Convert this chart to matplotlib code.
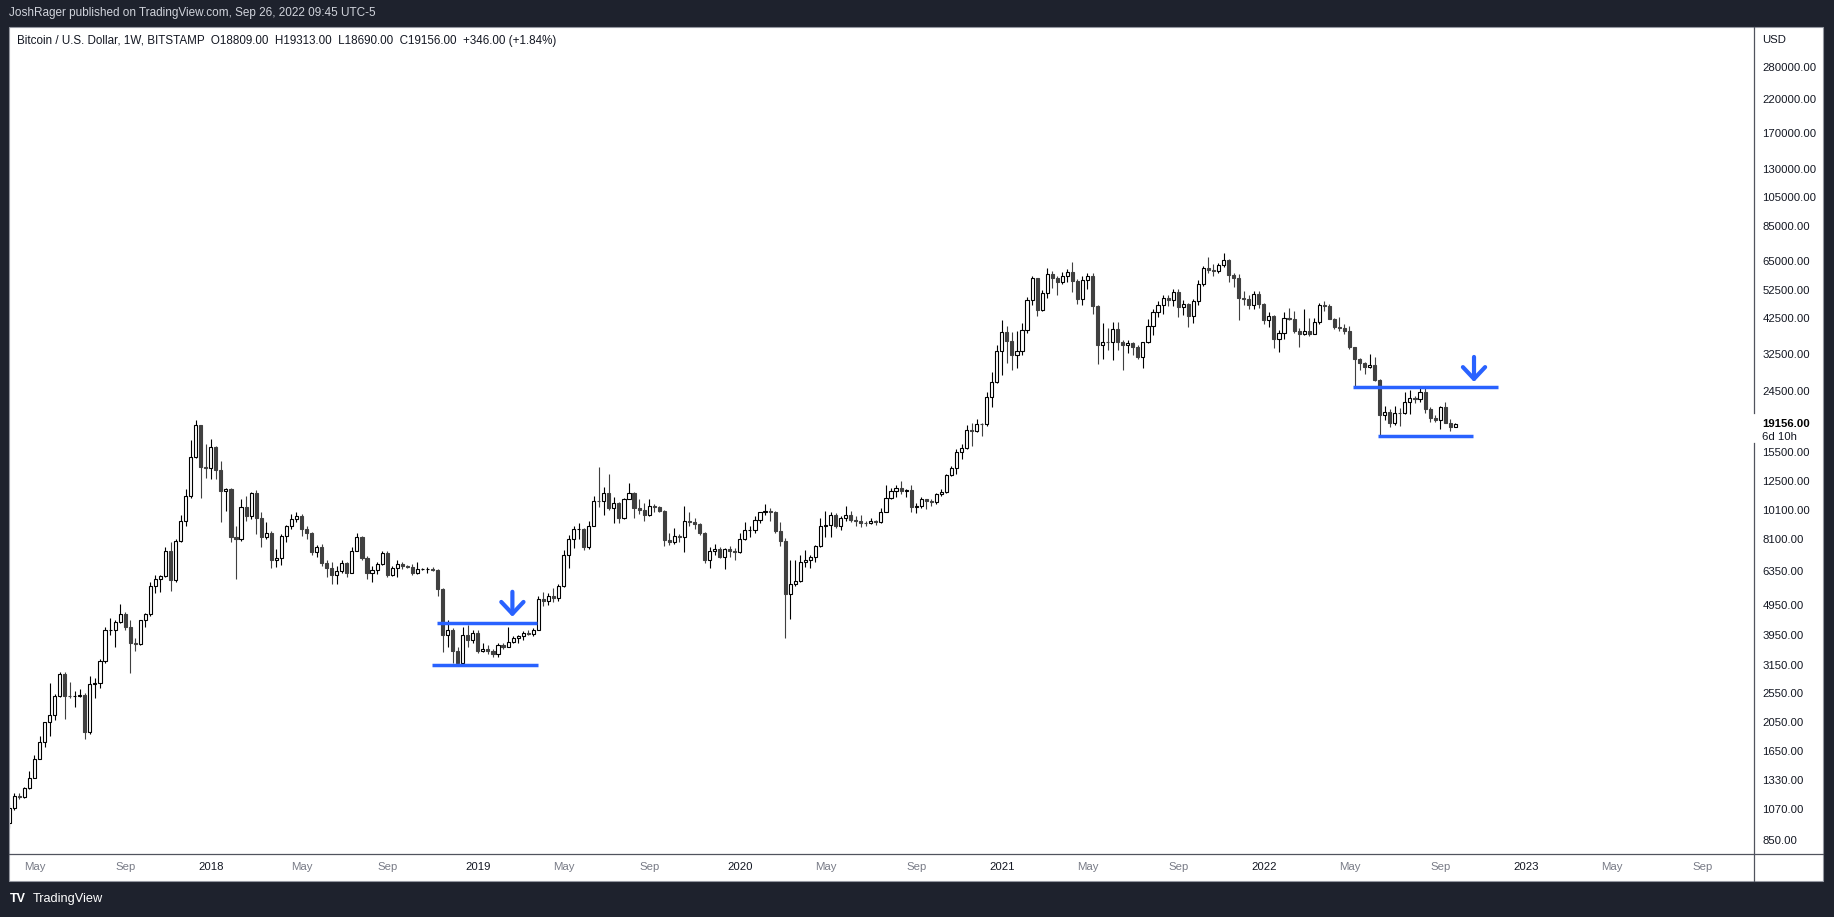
import matplotlib
matplotlib.use("Agg")
import matplotlib.pyplot as plt
import matplotlib.dates as mdates
import matplotlib.patches as patches
import matplotlib.lines as mlines
import matplotlib.transforms as mtransforms
import numpy as np
import pandas as pd

plt.rcParams["font.family"] = ["Liberation Sans", "DejaVu Sans"]

# ---- weekly BTC/USD (Bitstamp) candles ----
first_week = "2017-03-27"
first_open = 966

close_2017 = [1080, 1180, 1170, 1250, 1350, 1560, 1770, 2050, 2170, 2500, 2950, 2500, 2490, 2500, 2510,
              1900, 2730, 2750, 3250, 4080, 4100, 4350, 4600, 4200, 3700, 3680, 4400, 4600, 5700, 6000,
              6150, 7400, 5950, 8000, 9300, 11200, 15000, 19000, 13900, 13800]
high_2017 = [1100, 1210, 1210, 1265, 1420, 1600, 1850, 2060, 2760, 2530, 2980, 2980, 2780, 2600, 2620,
             2550, 2900, 2850, 3300, 4200, 4480, 4400, 4980, 4700, 4400, 3850, 4420, 4650, 5850, 6200,
             6200, 7600, 7900, 8100, 9700, 11800, 17000, 19700, 19100, 16500]
low_2017 = [930, 1060, 1150, 1160, 1240, 1345, 1550, 1700, 1850, 2080, 2480, 2100, 2460, 2300, 2480,
            1810, 1880, 2450, 2650, 3200, 3950, 3600, 4300, 4100, 2970, 3500, 3650, 4200, 4560, 5400,
            5450, 6100, 5500, 5850, 7900, 8900, 11000, 14900, 11000, 12800]

close_2018 = [16100, 13600, 11600, 11800, 8200, 8100, 10300, 9600, 11400, 9500, 8200, 8500, 6900, 7050,
              8300, 8900, 9400, 9650, 8700, 8500, 7350, 7650, 6750, 6500, 6200, 6350, 6750, 6300, 7400,
              8200, 7000, 6300, 6400, 6700, 7300, 6200, 6500, 6700, 6600, 6550, 6300, 6450, 6450, 6480,
              6400, 5550, 3950, 4100, 3500, 3200, 3950, 3800, 4000]
high_2018 = [17200, 16300, 14500, 11900, 11900, 8900, 10900, 11200, 11500, 11700, 9900, 9200, 8600, 7500,
             8400, 9000, 9800, 9950, 9800, 8900, 8550, 7750, 7800, 6900, 6800, 6600, 6900, 6800, 7600,
             8500, 8300, 7150, 6600, 6800, 7400, 7400, 6600, 6900, 6800, 6650, 6700, 6800, 6520, 6550,
             6550, 6450, 5600, 4400, 4150, 3600, 4200, 4250, 4100]
low_2018 = [12700, 12700, 9200, 10000, 7900, 6000, 8000, 9300, 9400, 8400, 7600, 8100, 6500, 6550,
            6650, 7900, 8700, 9200, 8300, 8100, 7200, 7100, 6600, 6100, 5800, 5800, 6300, 6100, 6300,
            7400, 6900, 6000, 5880, 6250, 6650, 6100, 6150, 6100, 6450, 6500, 6200, 6250, 6400, 6300,
            6350, 5300, 3470, 3600, 3200, 3150, 3200, 3600, 3700]

close_2019 = [3500, 3550, 3500, 3420, 3650, 3600, 3750, 3850, 3900, 4000, 3980, 4100, 5150, 5100, 5300,
              5200, 5700, 7200, 8100, 8700, 8750, 7650, 8950, 10800, 10750, 11400, 10200, 10600, 9500,
              10900, 11400, 10200, 10100, 9700, 10400, 10300, 10000, 8050, 7900, 8300, 8200, 9300, 9200,
              9050, 8500, 6900, 7400, 7500, 7100, 7500, 7400, 7350]
high_2019 = [4100, 3700, 3650, 3550, 3700, 3700, 4200, 3900, 3950, 4050, 4080, 4150, 5300, 5450, 5400,
             5600, 5800, 7450, 8350, 8900, 9100, 8800, 9300, 11200, 13900, 12000, 13200, 11100, 10700,
             11000, 12300, 11500, 10900, 10600, 10900, 10500, 10350, 10100, 8500, 8800, 8400, 10400, 9900,
             9500, 9100, 8550, 7650, 7800, 7650, 7550, 7700, 7550]
low_2019 = [3450, 3480, 3420, 3350, 3350, 3550, 3600, 3700, 3700, 3800, 3950, 3900, 4100, 4900, 4950,
            5050, 5100, 5650, 6500, 7550, 8100, 7450, 7500, 8900, 10300, 9700, 10100, 9100, 9100,
            9400, 10900, 9500, 9800, 9300, 9600, 9900, 9900, 7700, 7750, 7800, 7900, 7350, 8950,
            8700, 8350, 6750, 6500, 7200, 7000, 6450, 7100, 6900]

close_2020 = [8100, 8650, 8680, 9350, 9900, 10000, 9950, 8600, 8000, 5350, 5800, 5900, 6800, 6900, 7100,
              7700, 8900, 9000, 9700, 8900, 9450, 9700, 9350, 9300, 9150, 9100, 9250, 9200, 9900, 11050,
              11600, 11850, 11650, 11700, 10300, 10350, 10900, 10750, 10650, 11350, 11500, 13050, 13800,
              15500, 16000, 18400, 18200, 19200, 19150, 23500, 26300, 33100]
high_2020 = [8450, 9200, 8900, 9600, 9950, 10500, 10200, 10000, 9200, 8150, 6900, 6900, 7200, 7450, 7200,
             7750, 9450, 10000, 9900, 9850, 9600, 10400, 10000, 9600, 9700, 9300, 9450, 9350, 10200, 12100,
             11900, 12100, 12500, 11750, 12100, 10600, 11100, 10950, 10950, 11450, 11750, 13200, 14000,
             15950, 16500, 19000, 19400, 19900, 19400, 24300, 28400, 34800]
low_2020 = [7300, 8050, 8250, 8500, 9150, 9700, 9300, 8500, 7700, 3850, 4450, 5700, 5850, 6550, 6500,
            6800, 7650, 8200, 8200, 8800, 8650, 9300, 9200, 8900, 8850, 8950, 9050, 9000, 9150, 9900,
            10900, 11100, 11350, 11100, 9900, 9850, 10200, 10150, 10400, 10500, 11200, 11400, 12950,
            13200, 14800, 15900, 16300, 18100, 17600, 18900, 21800, 26000]

close_2021 = [38200, 35800, 32300, 33100, 38900, 48600, 57400, 45200, 51200, 59100, 57400, 55800, 58200,
              59800, 56200, 49100, 56600, 58200, 46400, 34600, 35600, 35500, 39100, 35600, 34700, 35300,
              34200, 31800, 35400, 39900, 44500, 47000, 49300, 48800, 51800, 46000, 47300, 43200, 48200,
              54900, 61600, 60900, 60600, 63300, 65500, 58700, 57200, 49400, 49100, 46700, 50800, 47300]
high_2021 = [41900, 40100, 38300, 38600, 41000, 49700, 58400, 57500, 52600, 61800, 60600, 58400, 60000,
             61300, 64900, 57000, 58000, 59600, 59500, 46900, 40800, 39500, 41300, 41300, 35900, 36000,
             35400, 34600, 35500, 42300, 45300, 48100, 50500, 50500, 52900, 52900, 48800, 47700, 49000,
             56600, 62900, 67000, 63700, 64300, 69000, 66300, 59400, 59000, 51900, 50500, 51900, 52100]
low_2021 = [27700, 30400, 28800, 29200, 32300, 37900, 47000, 43000, 44900, 49300, 53300, 50400, 54900,
            55500, 51500, 47100, 47000, 53000, 43800, 30000, 31200, 33400, 31100, 33300, 28800, 32700,
            32100, 31200, 29300, 35200, 37300, 42800, 43900, 46400, 46600, 42800, 43400, 39600, 40800,
            46900, 54000, 59500, 58000, 59500, 62300, 55600, 53500, 42000, 46800, 45500, 45600, 45700]

close_2022 = [41800, 43100, 36300, 37900, 42400, 42200, 38400, 37700, 38400, 37800, 41300, 46900, 46400,
              42200, 39700, 39500, 38500, 34100, 31300, 30300, 29400, 29900, 26600, 20500, 21000, 19300,
              20850, 20800, 22600, 23300, 23200, 24400, 21500, 20000, 19800, 21800, 19400, 18809, 19156]
high_2022 = [47600, 44400, 43500, 38900, 44500, 45900, 44800, 39500, 45400, 42600, 42400, 47500, 48200,
             47200, 42400, 42900, 40700, 40000, 34200, 31400, 30600, 32400, 31700, 26900, 21900, 21500,
             22000, 21600, 24300, 24700, 23600, 25200, 25200, 21800, 20600, 21900, 22700, 19900, 19313]
low_2022 = [40600, 39700, 34000, 32900, 36300, 41800, 38000, 34300, 37400, 37200, 37600, 40500, 44900,
            42100, 39200, 38500, 37700, 33700, 25400, 28700, 28000, 29300, 26500, 17600, 19800, 18800,
            19000, 18900, 20700, 20700, 22400, 22700, 20800, 19500, 19500, 18500, 19300, 18200, 18690]

# ---- drawn levels and arrows (date range, price) ----
level_prices = [4300, 3150, 25400, 17600]
level_starts = ["2018-11-11", "2018-11-04", "2022-05-07", "2022-06-10"]
level_ends = ["2019-03-30", "2019-03-31", "2022-11-24", "2022-10-21"]
arrow_dates = ["2019-02-24", "2022-10-22"]
arrow_prices = [4520, 26300]

# ---- axis labels ----
price_ticks = [280000, 220000, 170000, 130000, 105000, 85000, 65000, 52500, 42500, 32500, 24500,
               15500, 12500, 10100, 8100, 6350, 4950, 3950, 3150, 2550, 2050, 1650, 1330, 1070, 850]
time_ticks = ["2017-05-01", "2017-09-04", "2018-01-01", "2018-05-07", "2018-09-03", "2019-01-07",
              "2019-05-06", "2019-09-02", "2020-01-06", "2020-05-04", "2020-09-07", "2021-01-04",
              "2021-05-03", "2021-09-06", "2022-01-03", "2022-05-02", "2022-09-05", "2023-01-02",
              "2023-05-01", "2023-09-04"]
time_labels = ["May", "Sep", "2018", "May", "Sep", "2019", "May", "Sep", "2020", "May", "Sep", "2021",
               "May", "Sep", "2022", "May", "Sep", "2023", "May", "Sep"]

closes = np.array(close_2017 + close_2018 + close_2019 + close_2020 + close_2021 + close_2022, float)
highs = np.array(high_2017 + high_2018 + high_2019 + high_2020 + high_2021 + high_2022, float)
lows = np.array(low_2017 + low_2018 + low_2019 + low_2020 + low_2021 + low_2022, float)
opens = np.concatenate([[first_open], closes[:-1]])
weeks = pd.date_range(first_week, periods=len(closes), freq="7D")
x = mdates.date2num(weeks)

W, H = 1834, 917
BG = "#1e222d"
TXT = "#131722"
BLUE = "#2962ff"
DOWN = "#404040"

fig = plt.figure(figsize=(W / 100, H / 100), dpi=100)
fig.patch.set_facecolor(BG)

# white chart panel
panel = patches.Rectangle((9 / W, 1 - 881 / H), (1823 - 9) / W, (881 - 27) / H,
                          transform=fig.transFigure, facecolor="white",
                          edgecolor="#9598a1", linewidth=0.8, zorder=-5)
fig.patches.append(panel)

ax = fig.add_axes([10 / W, 1 - 854 / H, (1754 - 10) / W, (854 - 27) / H])
ax.set_zorder(3)
ax.set_facecolor("none")
ax.set_yscale("log")
ax.set_ylim(763, 376700)
ax.set_xlim(mdates.datestr2num("2017-03-28"), mdates.datestr2num("2023-11-15"))
for s in ax.spines.values():
    s.set_visible(False)

# candles
up = closes >= opens
body_w = 4.3
wick_col = np.where(up, "#000000", DOWN)
ax.vlines(x, lows, highs, colors=wick_col, linewidth=0.8, zorder=2)
bottoms = np.minimum(opens, closes)
heights = np.abs(closes - opens)
ax.bar(x[up], heights[up], width=body_w, bottom=bottoms[up], facecolor="white",
       edgecolor="#000000", linewidth=0.8, zorder=3)
ax.bar(x[~up], heights[~up], width=body_w, bottom=bottoms[~up], facecolor=DOWN,
       edgecolor=DOWN, linewidth=0.8, zorder=3)

# blue levels and arrows
for p, a, b in zip(level_prices, level_starts, level_ends):
    ax.plot([mdates.datestr2num(a), mdates.datestr2num(b)], [p, p], color=BLUE,
            linewidth=2.5, solid_capstyle="butt", zorder=4)
for d, p in zip(arrow_dates, arrow_prices):
    ax.annotate("", xy=(mdates.datestr2num(d), p), xytext=(0, 18), textcoords="offset points",
                arrowprops=dict(arrowstyle="->,head_length=0.85,head_width=0.8", color=BLUE,
                                lw=3.0, shrinkA=0, shrinkB=0, mutation_scale=10,
                                joinstyle="round", capstyle="round"), zorder=4)

# price axis
ax.yaxis.tick_right()
ax.yaxis.set_minor_locator(matplotlib.ticker.NullLocator())
ax.yaxis.set_minor_formatter(matplotlib.ticker.NullFormatter())
ax.set_yticks(price_ticks)
ax.set_yticklabels([f"{v:.2f}" for v in price_ticks])
ax.tick_params(axis="y", length=0, pad=6, labelsize=8.2, labelcolor=TXT)

# time axis
ax.set_xticks(mdates.datestr2num(time_ticks))
ax.set_xticklabels(time_labels)
ax.tick_params(axis="x", length=0, pad=6, labelsize=8.2)
for lab in ax.get_xticklabels():
    lab.set_color(TXT if lab.get_text().isdigit() else "#787b86")

# separators
line_kw = dict(transform=fig.transFigure, color="#50535e", linewidth=0.9, zorder=1)
fig.add_artist(mlines.Line2D([9 / W, 1823 / W], [1 - 854 / H, 1 - 854 / H], **line_kw))
fig.add_artist(mlines.Line2D([1754 / W, 1754 / W], [1 - 27 / H, 1 - 413 / H], **line_kw))
fig.add_artist(mlines.Line2D([1754 / W, 1754 / W], [1 - 443 / H, 1 - 881 / H], **line_kw))

# last price label
last_tr = mtransforms.blended_transform_factory(fig.transFigure, ax.transData)
ax.text(1762 / W, closes[-1], f"{closes[-1]:.2f}", transform=last_tr, ha="left", va="center",
        fontsize=8.2, color="#000000", fontweight="bold", clip_on=False)
ax.annotate("6d 10h", xy=(1762 / W, closes[-1]), xycoords=last_tr, xytext=(0, -9.5),
            textcoords="offset points", ha="left", va="center", fontsize=8.2, color=TXT,
            annotation_clip=False)

# texts
fig.text(1762 / W, 1 - 40 / H, "USD", ha="left", va="center", fontsize=8.2, color=TXT)
fig.text(17 / W, 1 - 41 / H,
         "Bitcoin / U.S. Dollar, 1W, BITSTAMP  O18809.00  H19313.00  L18690.00  C19156.00  +346.00 (+1.84%)",
         ha="left", va="center", fontsize=8.4, color=TXT)
fig.text(9 / W, 1 - 13 / H, "JoshRager published on TradingView.com, Sep 26, 2022 09:45 UTC-5",
         ha="left", va="center", fontsize=8.5, color="#d1d4dc")
fig.text(10 / W, 1 - 899 / H, "TV", ha="left", va="center", fontsize=9, color="white",
         fontweight="heavy")
fig.text(33 / W, 1 - 899 / H, "TradingView", ha="left", va="center", fontsize=9.2, color="white")

fig.savefig("out.png", dpi=100, facecolor=fig.get_facecolor())
